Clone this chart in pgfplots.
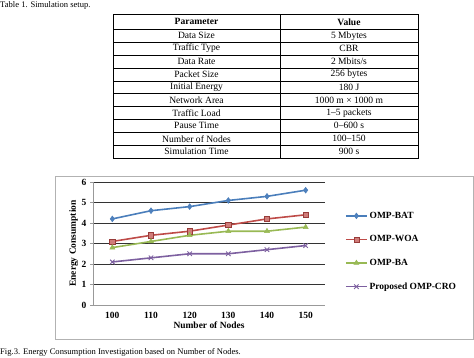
\documentclass[border=0pt]{standalone}
\usepackage{pgfplots}
\pgfplotsset{compat=1.18}
\usepackage{fontspec}
\setmainfont{Liberation Serif}
\definecolor{bat}{HTML}{4A7EBB}
\definecolor{batm}{HTML}{4F81BD}
\definecolor{woa}{HTML}{BE4B48}
\definecolor{woam}{HTML}{C0504D}
\definecolor{ba}{HTML}{98B954}
\definecolor{bam}{HTML}{9BBB59}
\definecolor{cro}{HTML}{7D60A0}
\begin{document}
\begin{tikzpicture}
\path[use as bounding box] (0,0) rectangle (474bp,-358bp);
% caption of table
\node[anchor=west, inner sep=0pt, font=\fontsize{8.6}{10}\selectfont] at (0bp,-5bp) {Table 1. Simulation setup.};
% table
\draw[line width=0.7pt] (113bp,-14bp) rectangle (418bp,-158bp);
\draw[line width=0.5pt] (280bp,-14bp) -- (280bp,-158bp);
\foreach \k in {0,...,9} {
  \draw[line width=0.5pt] (113bp,{-(29.3+12.87*\k)*1bp}) -- (418bp,{-(29.3+12.87*\k)*1bp});
}
\node[font=\bfseries\fontsize{9.6}{11}\selectfont] at (196.5bp,-21.9bp) {Parameter};
\node[font=\bfseries\fontsize{9.6}{11}\selectfont] at (349bp,-21.9bp) {Value};
\foreach \p/\v [count=\i] in {Data Size/5 Mbytes, Traffic Type/CBR, Data Rate/{2 Mbits/s}, Packet Size/256 bytes, Initial Energy/180 J, Network Area/1000 m × 1000 m, Traffic Load/1--5 packets, Pause Time/0--600 s, Number of Nodes/100--150, Simulation Time/900 s} {
  \node[font=\fontsize{9.6}{11}\selectfont] at (196.5bp,{-(29.3+12.87*(\i-0.5))*1bp}) {\p};
  \node[font=\fontsize{9.6}{11}\selectfont] at (349bp,{-(29.3+12.87*(\i-0.5))*1bp}) {\v};
}
% chart frame
\draw[gray!60, line width=0.6pt] (55bp,-176bp) rectangle (473bp,-339bp);
\begin{axis}[
  at={(93bp,-305bp)}, anchor=south west,
  scale only axis, width=232bp, height=123bp,
  xmin=95, xmax=155, ymin=0, ymax=6,
  xtick={100,110,...,150}, ytick={0,...,6},
  minor xtick={95,105,...,155},
  axis x line*=bottom, axis y line*=left,
  axis line style={gray!80, line width=0.6pt},
  xtick style={draw=none},
  minor tick length=3bp, major tick length=3bp,
  tick align=outside,
  every minor tick/.style={gray!80, line width=0.6pt},
  ytick style={gray!80, line width=0.6pt},
  ymajorgrids, major grid style={black!80, line width=0.7pt},
  /pgf/number format/assume math mode=true,
  ticklabel style={font=\bfseries\fontsize{9.5}{11}\selectfont},
  xticklabel style={yshift=-1bp},
  label style={font=\bfseries\fontsize{9.5}{11}\selectfont},
  xlabel={Number of Nodes},
  ylabel={Energy Consumption},
  xlabel style={yshift=4bp},
  ylabel style={yshift=-3bp},
  legend style={at={(1.073,0.79)}, anchor=north west, draw=none, fill=none,
    font=\bfseries\fontsize{9.5}{11}\selectfont, row sep=11.8bp,
    /tikz/every even column/.append style={column sep=1bp}},
  legend cell align=left,
  legend image code/.code={\draw[mark repeat=2,mark phase=2] plot coordinates {(0cm,0cm) (0.37cm,0cm) (0.74cm,0cm)};},
  clip=false,
]
\addplot[bat, line width=1.6pt, mark=diamond*, mark size=2.9pt, mark options={fill=batm, draw=bat, line width=0.5pt}] coordinates {(100,4.2) (110,4.6) (120,4.8) (130,5.1) (140,5.3) (150,5.6)};
\addlegendentry{OMP-BAT}
\addplot[woa, line width=1.6pt, mark=square*, mark size=2.6pt, mark options={fill=woam!75, draw=woa!80!black, line width=0.5pt}] coordinates {(100,3.1) (110,3.4) (120,3.6) (130,3.9) (140,4.2) (150,4.4)};
\addlegendentry{OMP-WOA}
\addplot[ba, line width=1.6pt, mark=triangle*, mark size=2.9pt, mark options={fill=bam, draw=ba, line width=0.5pt}] coordinates {(100,2.8) (110,3.1) (120,3.4) (130,3.6) (140,3.6) (150,3.8)};
\addlegendentry{OMP-BA}
\addplot[cro, line width=1.6pt, mark=x, mark size=3.2pt, mark options={draw=cro, line width=0.9pt}] coordinates {(100,2.1) (110,2.3) (120,2.5) (130,2.5) (140,2.7) (150,2.9)};
\addlegendentry{Proposed OMP-CRO}
\end{axis}
\node[anchor=west, inner sep=0pt, font=\fontsize{8.6}{10}\selectfont] at (0bp,-352bp) {Fig.3. Energy Consumption Investigation based on Number of Nodes.};
\end{tikzpicture}
\end{document}
